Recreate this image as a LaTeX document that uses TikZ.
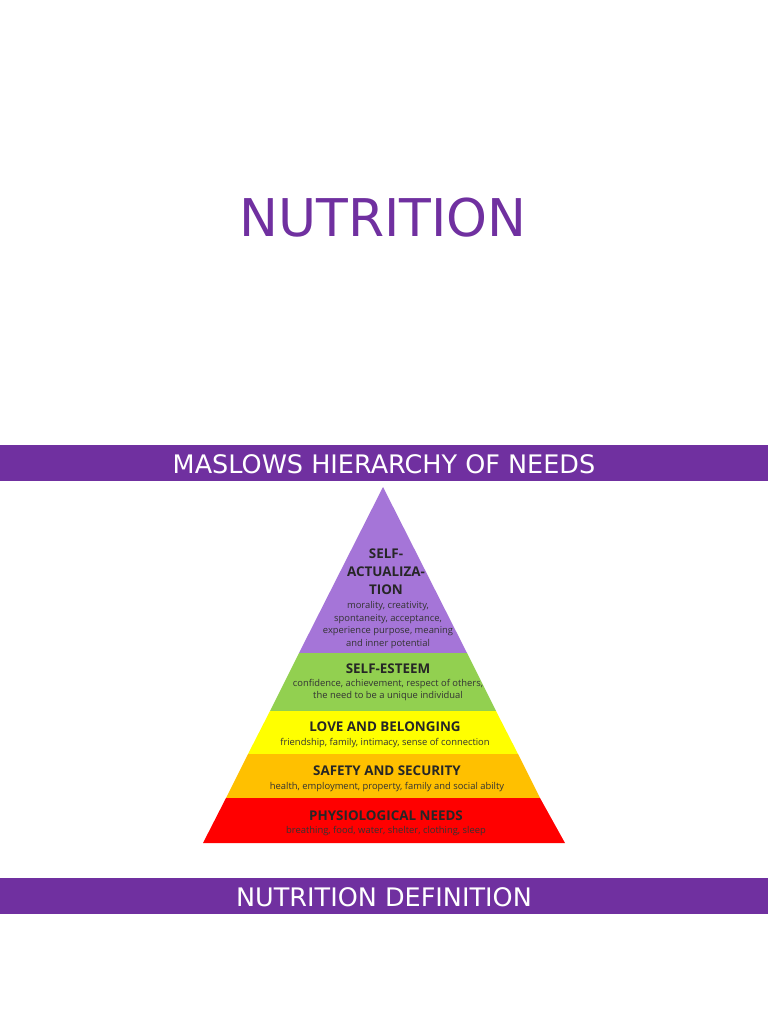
\documentclass[tikz,border=0pt]{standalone}
\usepackage{fontspec}
\setmainfont{DejaVu Sans}
\newfontfamily\pyr{Open Sans}
\definecolor{banner}{HTML}{7030A0}
\definecolor{lvA}{HTML}{A575D8}
\definecolor{lvB}{HTML}{92D050}
\definecolor{lvC}{HTML}{FFFF00}
\definecolor{lvD}{HTML}{FFC000}
\definecolor{lvE}{HTML}{FF0000}
\tikzset{
  band/.style={fill=banner, draw=none},
  bantext/.style={text=white, font=\fontsize{25.5}{30}\selectfont, inner sep=0},
  head/.style={font=\pyr\bfseries\fontsize{13.4}{18}\selectfont, align=center, inner sep=0, text=black!85},
  detail/.style={font=\pyr\fontsize{9.4}{12.7}\selectfont, align=center, inner sep=0, text=black!80},
}
\begin{document}
\begin{tikzpicture}[x=1pt,y=-1pt]
\useasboundingbox (0,0) rectangle (768,1024);
\fill[white] (0,0) rectangle (768,1024);
\node[text=banner, font=\fontsize{52}{58}\selectfont, inner sep=0] (title) at (383,218) {NUTRITION};
\fill[band] (0,445) rectangle (768,481);
\node[bantext] (b1) at (384,464) {MASLOWS HIERARCHY OF NEEDS};
\fill[band] (0,878) rectangle (768,914);
\node[bantext] (b2) at (384,897) {NUTRITION DEFINITION};
% pyramid layers
\coordinate (apex) at (383,487);
\fill[lvA] (apex) -- (299,653) -- (467,653) -- cycle;
\fill[lvB] (299,653) -- (270,711) -- (496,711) -- (467,653) -- cycle;
\fill[lvC] (270,711) -- (248,754) -- (518,754) -- (496,711) -- cycle;
\fill[lvD] (248,754) -- (226,798) -- (540,798) -- (518,754) -- cycle;
\fill[lvE] (226,798) -- (203,843) -- (565,843) -- (540,798) -- cycle;
\node[head] (h1) at (386,572) {SELF-\\ACTUALIZA-\\TION};
\node[detail] (d1) at (388,625) {morality, creativity,\\spontaneity, acceptance,\\experience purpose, meaning\\and inner potential};
\node[head] (h2) at (388,669) {SELF-ESTEEM};
\node[detail] (d2) at (388,690) {confidence, achievement, respect of others,\\the need to be a unique individual};
\node[head] (h3) at (385,727) {LOVE AND BELONGING};
\node[detail] (d3) at (385,743) {friendship, family, intimacy, sense of connection};
\node[head] (h4) at (387,771) {SAFETY AND SECURITY};
\node[detail] (d4) at (387,787) {health, employment, property, family and social abilty};
\node[head] (h5) at (386,816) {PHYSIOLOGICAL NEEDS};
\node[detail] (d5) at (386,831) {breathing, food, water, shelter, clothing, sleep};
\end{tikzpicture}
\end{document}
